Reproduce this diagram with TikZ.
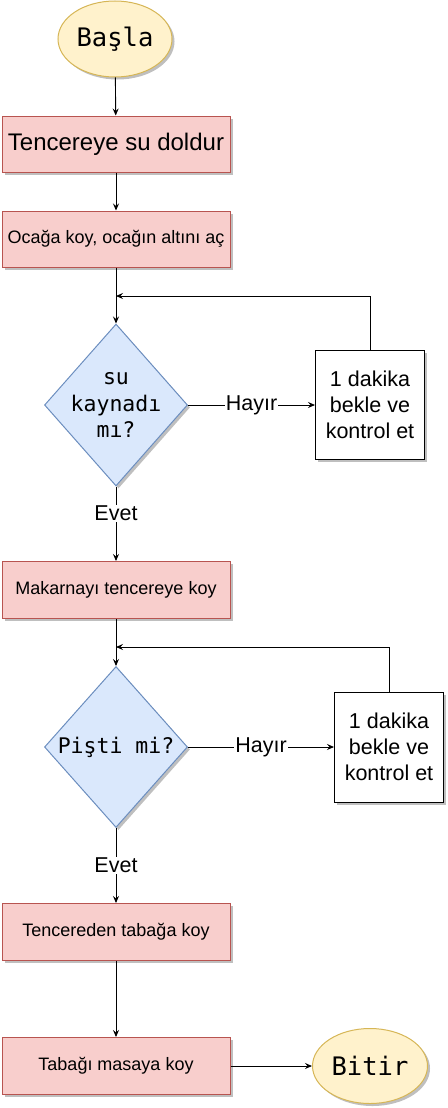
\documentclass[tikz,border=0pt]{standalone}
\usepackage{fontspec}
\setmainfont{Liberation Sans}
\newfontfamily\codefont{DejaVu Sans Mono}
\usepackage{tikz}
\usetikzlibrary{shapes.geometric,arrows.meta,shadows}
\definecolor{termfill}{HTML}{FFF2CC}
\definecolor{termline}{HTML}{D6B656}
\definecolor{procfill}{HTML}{F8CECC}
\definecolor{procline}{HTML}{B85450}
\definecolor{decfill}{HTML}{DAE8FC}
\definecolor{decline}{HTML}{6C8EBF}
\tikzset{shade/.style={drop shadow={shadow xshift=2.5pt, shadow yshift=-2.5pt, opacity=0.25, fill=black}},
terminal/.style={ellipse, shade, draw=termline, fill=termfill, line width=1pt, minimum width=114, minimum height=76, inner sep=0pt, font=\codefont\fontsize{25.5}{30}\selectfont},
process/.style={rectangle, shade, draw=procline, fill=procfill, line width=1pt, minimum width=228, minimum height=56, inner sep=0pt, font=\fontsize{18}{21.6}\selectfont},
decision/.style={diamond, shade, draw=decline, fill=decfill, line width=1pt, aspect=0.883, minimum width=143, minimum height=162, inner sep=-6pt, align=center, font=\codefont\fontsize{21.5}{26.7}\selectfont},
waitbox/.style={rectangle, shade, draw=black, fill=white, line width=1pt, minimum width=109, minimum height=109, inner sep=0pt, align=center, font=\fontsize{21.5}{26}\selectfont},
%labels on the connectors
lbl/.style={fill=white, inner sep=1pt, font=\fontsize{21.5}{26}\selectfont},
arrow/.style={-{Stealth[length=7pt, width=6pt, inset=2.5pt]}, line width=0.9pt}}

\begin{document}
\begin{tikzpicture}[x=1pt, y=-1pt]
\useasboundingbox (0,0) rectangle (447,1108);
% first part
\node[terminal] (basla) at (115,39) {Başla};
\node[process, font=\fontsize{24}{28}\selectfont] (tencere) at (116,144) {Tencereye su doldur};
\node[process] (ocak) at (116,239) {Ocağa koy, ocağın altını aç};
\node[decision] (kayna) at (116,405) {su\\kaynadı\\mı?};
\node[waitbox] (bekle1) at (370,405) {1 dakika\\bekle ve\\kontrol et};
\coordinate (donus1) at (116,296);

% second part
\node[process, minimum height=57] (makarna) at (116,590) {Makarnayı tencereye koy};
\node[decision, minimum height=161] (pisti) at (116,747) {Pişti mi?};
\node[waitbox, minimum height=110] (bekle2) at (389,747) {1 dakika\\bekle ve\\kontrol et};
\coordinate (donus2) at (116,647);
\node[process, minimum height=57] (tabaga) at (116,932) {Tencereden tabağa koy};
\node[process, minimum height=57] (masa) at (116,1066) {Tabağı masaya koy};
\node[terminal, minimum width=115, minimum height=75] (bitir) at (370,1066) {Bitir};

%straight arrows
\foreach \a/\b in {basla/tencere, tencere/ocak, ocak/kayna, makarna/pisti, tabaga/masa, masa/bitir}
     \draw[arrow] (\a) -- (\b);

% loops back
\draw[arrow] (bekle1.north) |- (donus1);
\draw[arrow] (bekle2.north) |- (donus2);

% answers
\draw[arrow] (kayna.east) -- node[lbl]{Hayır} (bekle1.west);
\draw[arrow] (kayna.south) -- node[lbl, pos=0.36]{Evet} (makarna.north);
\draw[arrow] (pisti.east) -- node[lbl]{Hayır} (bekle2.west);
\draw[arrow] (pisti.south) -- node[lbl]{Evet} (tabaga.north);
\end{tikzpicture}
\end{document}
